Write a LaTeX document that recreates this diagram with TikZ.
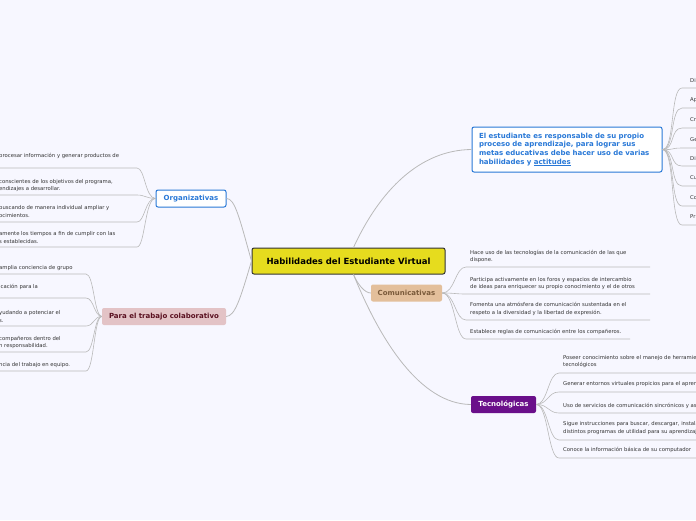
\documentclass[tikz,border=0pt]{standalone}
\usepackage{fontspec}
\setmainfont{DejaVu Sans}
\begin{document}
\begin{tikzpicture}[x=1pt,y=-1pt,
 conn/.style={draw=gray!55,line width=0.8pt},
 leaf/.style={font=\fontsize{5.3}{7.5}\selectfont,text=black!80,inner sep=0pt,align=left},
 leafr/.style={leaf,anchor=east},
 leafl/.style={leaf,anchor=west},
 topic/.style={rounded corners=2pt,minimum height=17pt,font=\fontsize{7}{9}\selectfont\bfseries,inner sep=3pt}]
\fill[blue!3] (0,0) rectangle (696,520);
\useasboundingbox (0,0) rectangle (696,520);
% central
\node[draw=black!80,line width=1pt,fill={rgb,255:red,230;green,220;blue,30},rounded corners=2pt,minimum width=193pt,minimum height=26pt,font=\fontsize{8.5}{10}\selectfont\bfseries] (c) at (348.5,261) {Habilidades del Estudiante Virtual};
% top box
\node[draw={rgb,255:red,40;green,120;blue,215},line width=1pt,fill=white,rounded corners=2pt,minimum width=190pt,minimum height=45pt,text width=176pt,align=left,font=\fontsize{7}{8.7}\selectfont\bfseries,text={rgb,255:red,40;green,120;blue,215}] (t) at (567,149.5) {El estudiante es responsable de su propio proceso de aprendizaje, para lograr sus metas educativas debe hacer uso de varias habilidades y \underline{actitudes}};
\node[topic,draw={rgb,255:red,40;green,120;blue,215},line width=1pt,fill=white,text={rgb,255:red,40;green,120;blue,215},minimum width=70pt] (o) at (191,198.5) {Organizativas};
\node[topic,fill={rgb,255:red,227;green,195;blue,198},text={rgb,255:red,90;green,16;blue,32},minimum width=124pt] (p) at (164,316.5) {Para el trabajo colaborativo};
\node[topic,fill={rgb,255:red,227;green,191;blue,155},text={rgb,255:red,122;green,90;blue,58},minimum width=71pt] (m) at (406.5,293) {Comunicativas};
\node[topic,fill={rgb,255:red,106;green,15;blue,138},text=white,minimum width=65pt] (g) at (503.5,404.5) {Tecnológicas};
% main connectors
\draw[conn] (c.north) ++(5,0) coordinate (c1) .. controls (380,190) and (420,150) .. (t.west);
\draw[conn] (c.south) ++(5,0) coordinate (c2) .. controls (358,285) and (365,293) .. (m.west);
\draw[conn] (c2) .. controls (380,340) and (420,404) .. (g.west);
\draw[conn] (c.west) .. controls (240,220) and (235,198) .. (o.east);
\draw[conn] (c.west) .. controls (240,300) and (235,316) .. (p.east);
% top leaves
\foreach \y/\t [count=\i] in {80/Di,100/Ap,120/Cr,140/Ge,158/Di,178/Cu,198/Co,217/Pr}{
 \node[leafl] (tl\i) at (690,\y) {\t};
 \coordinate (tu\i) at (682,\y+8);
 \draw[conn,line width=0.6pt] (t.east) .. controls (675,150) and (670,\y+8) .. (tu\i) -- (700,\y+8);
}
% comunicativas leaves
\foreach \y/\u/\e/\t [count=\i] in {
 256.5/267/650/{Hace uso de las tecnologías de la comunicación de las que\\dispone.},
 283.5/294/650/{Participa activamente en los foros y espacios de intercambio\\de ideas para enriquecer su propio conocimiento y el de otros},
 309/320/650/{Fomenta una atmósfera de comunicación sustentada en el\\respeto a la diversidad y la libertad de expresión.},
 331.5/339/630/{Establece reglas de comunicación entre los compañeros.}}{
 \node[leafl] (ml\i) at (470,\y) {\t};
 \coordinate (mu\i) at (466,\u);
 \draw[conn,line width=0.6pt] (m.east) .. controls (455,293) and (455,\u) .. (mu\i) -- (\e,\u);
}
% tecnologicas leaves
\foreach \y/\u/\t [count=\i] in {
 361.5/373/{Poseer conocimiento sobre el manejo de herramientas\\tecnológicos},
 384.5/392/{Generar entornos virtuales propicios para el aprendizaje},
 405.5/413/{Uso de servicios de comunicación sincrónicos y asincrónicos},
 428/440/{Sigue instrucciones para buscar, descargar, instalar\\distintos programas de utilidad para su aprendizaje},
 450/458/{Conoce la información básica de su computador}}{
 \node[leafl] (gl\i) at (563,\y) {\t};
 \coordinate (gu\i) at (559,\u);
 \draw[conn,line width=0.6pt] (g.east) .. controls (548,404) and (548,\u) .. (gu\i) -- (700,\u);
}
% organizativas leaves
\foreach \y/\u/\t [count=\i] in {
 156/168/{procesar información y generar productos de},
 185.5/195/{conscientes de los objetivos del programa,\\endizajes a desarrollar.},
 211.5/222/{buscando de manera individual ampliar y\\ocimientos.},
 237.5/247/{amente los tiempos a fin de cumplir con las\\s establecidas.}}{
 \node[leaf,anchor=west] (ol\i) at (-1,\y) {\t};
 \coordinate (ou\i) at (137,\u);
 \draw[conn,line width=0.6pt] (o.west) .. controls (145,198) and (145,\u) .. (ou\i) -- (-5,\u);
}
% colaborativo leaves
\foreach \y/\u/\t [count=\i] in {
 268/274/{amplia conciencia de grupo},
 287/298/{icación para la},
 316.5/326/{yudando a potenciar el\\s.},
 342.5/352/{compañeros dentro del\\n responsabilidad.},
 365/371/{ncia del trabajo en equipo.}}{
 \node[leaf,anchor=west] (pl\i) at (-1,\y) {\t};
 \coordinate (pu\i) at (86,\u);
 \draw[conn,line width=0.6pt] (p.west) .. controls (94,316) and (94,\u) .. (pu\i) -- (-5,\u);
}
\end{tikzpicture}
\end{document}
